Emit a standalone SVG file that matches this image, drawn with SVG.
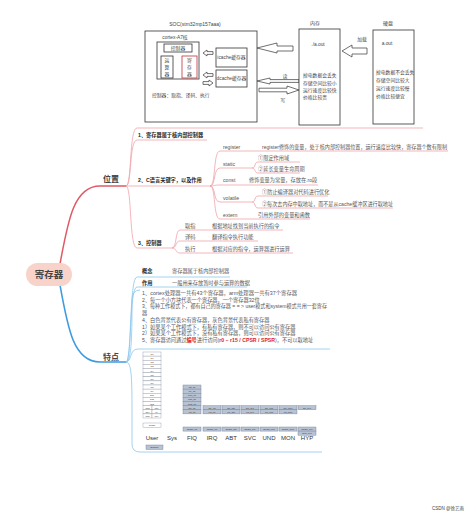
<svg xmlns="http://www.w3.org/2000/svg" width="474" height="514" viewBox="0 0 474 514">
<style>
text{font-family:"Liberation Sans","Noto Sans CJK SC",sans-serif;fill:#444}
.box{fill:#fff;stroke:#333;stroke-width:0.8}
.arr{fill:#fff;stroke:#333;stroke-width:0.7}
.t5{font-size:5px}
.t48{font-size:4.8px}
.m{text-anchor:middle}
.it{font-size:5.2px;fill:#555}
.b{font-weight:bold;fill:#222}
.rl{fill:none;stroke:#f0a3ab;stroke-width:0.8}
.bl{fill:none;stroke:#8dc6ee;stroke-width:0.8}
.pub{fill:#fff;stroke:#8a94a6;stroke-width:0.4}
.prv{fill:#b7c2d3;stroke:#6f7d94;stroke-width:0.4}
.rt{font-size:2.3px;fill:#333;text-anchor:middle}
.ml{font-size:6px;fill:#333;text-anchor:middle}
</style>
<rect width="474" height="514" fill="#fff"/>

<g id="connectors">
  <path d="M60 264 C68 220 74 186 100 186 L126 186" fill="none" stroke="#e05a66" stroke-width="1.5"/>
  <path d="M60 285 C68 330 74 362 100 362 L126 362" fill="none" stroke="#3d9be0" stroke-width="1.5"/>
  <path class="rl" d="M126 186 C132 186 129 128 137 128 H423"/>
  <path class="rl" d="M126 186 C132 186 129 140 137 140 H207"/>
  <path class="rl" d="M126 186 H210"/>
  <path class="rl" d="M126 186 C132 186 129 248 137 248 H172"/>
  <path class="rl" d="M210 186 C216 186 213 151 220 151 H448"/>
  <path class="rl" d="M210 186 C216 186 213 168 220 168 H252"/>
  <path class="rl" d="M252 168 C256 168 254 162 258 162 H300"/>
  <path class="rl" d="M252 168 C256 168 254 173 258 173 H300"/>
  <path class="rl" d="M210 186 C214 186 214 185 220 185 H318"/>
  <path class="rl" d="M210 186 C216 186 213 202 220 202 H252"/>
  <path class="rl" d="M252 202 C256 202 254 196 258 196 H328"/>
  <path class="rl" d="M252 202 C256 202 254 208 258 208 H393"/>
  <path class="rl" d="M210 186 C216 186 213 219 220 219 H310"/>
  <path class="rl" d="M172 248 C177 248 175 230 180 230 H283"/>
  <path class="rl" d="M172 248 C177 248 175 241 180 241 H258"/>
  <path class="rl" d="M172 248 C177 248 175 253 180 253 H293"/>
  <path class="bl" d="M126 362 C132 362 129 277 137 277 H230"/>
  <path class="bl" d="M126 362 C132 362 129 287 137 287 H247"/>
  <path class="bl" d="M126 362 C132 362 132 330 132 300 Q132 290 140 290"/>
  <path class="bl" d="M126 362 C132 362 129 349 138 349 H330"/>
  <path class="bl" d="M126 362 C132 362 132 380 132 420 V444 Q132 452 140 452 H322"/>
</g>

<g id="soc-picture">
  <text class="t5 m" x="195" y="25.5">SOC(stm32mp157aaa)</text>
  <rect class="box" x="145" y="31" width="112" height="91"/>
  <text class="t48 m" x="175" y="38.7">cortex-A7核</text>
  <rect class="box" x="157" y="42" width="42" height="37" stroke-width="1.1"/>
  <rect class="box" x="164" y="44" width="28" height="8"/>
  <text class="t48 m" x="178" y="49.7">控制器</text>
  <rect class="box" x="161" y="56" width="12" height="22"/>
  <text class="t48 m" x="167" y="61.5">运</text>
  <text class="t48 m" x="167" y="68.5">算</text>
  <text class="t48 m" x="167" y="75.8">器</text>
  <rect x="182" y="56" width="15" height="22" fill="#fff" stroke="#c0303a" stroke-width="0.8"/>
  <text class="t48 m" x="189.5" y="61.5">寄</text>
  <text class="t48 m" x="189.5" y="68.5">存</text>
  <text class="t48 m" x="189.5" y="75.8">器</text>
  <rect class="box" x="216" y="48" width="31" height="19"/>
  <text class="t48 m" x="231.5" y="59.2">icache缓存器</text>
  <rect class="box" x="216" y="70" width="31" height="17"/>
  <text class="t48 m" x="231.5" y="80.2">dcache缓存器</text>
  <polygon class="arr" points="203,53 207,50 207,51.6 213,51.6 213,54.4 207,54.4 207,56"/>
  <polygon class="arr" points="203,75 207,72 207,73.6 213,73.6 213,76.4 207,76.4 207,78"/>
  <polygon class="arr" points="213,83 209,80 209,81.6 203,81.6 203,84.4 209,84.4 209,86"/>
  <text class="t48" x="152" y="96.5">控制器：取指、译码、执行</text>
  <polygon class="arr" points="257,48 277,43 277,46 293,46 293,51 277,51 277,53"/>
  <polygon class="arr" points="257,81 270,78 270,79.6 299,79.6 299,82.4 270,82.4 270,84"/>
  <text class="t48 m" x="285" y="77.5">读</text>
  <polygon class="arr" points="259,88.2 287,88.2 287,86 299,90 287,94 287,91.8 259,91.8"/>
  <text class="t48 m" x="283" y="101.5">写</text>
  <text class="t5 m" x="315" y="24.7">内存</text>
  <rect class="box" x="299" y="29" width="41" height="96"/>
  <text class="t48 m" x="318" y="45.5">./a.out</text>
  <text class="t48" x="303" y="77.4">掉电数据会丢失</text>
  <text class="t48" x="303" y="84.6">存储空间比较小</text>
  <text class="t48" x="303" y="91.8">运行速度比较快</text>
  <text class="t48" x="303" y="99">价格比较贵</text>
  <polygon class="arr" points="342,51 352,45 352,48 367,48 367,54 352,54 352,57"/>
  <text class="t48 m" x="362" y="40.7">加载</text>
  <text class="t5 m" x="388" y="24.7">硬盘</text>
  <rect class="box" x="373" y="30" width="41" height="94"/>
  <text class="t48 m" x="387" y="44.7">a.out</text>
  <text class="t48" x="376" y="74.4">掉电数据不会丢失</text>
  <text class="t48" x="376" y="82.4">存储空间比较大</text>
  <text class="t48" x="376" y="90.4">运行速度比较慢</text>
  <text class="t48" x="376" y="98.4">价格比较便宜</text>
</g>

<g id="root">
  <rect x="26" y="263" width="46" height="23" rx="11.5" fill="#f8d3ca"/>
  <text x="49" y="277.6" font-size="9.5" font-weight="bold" text-anchor="middle" fill="#333">寄存器</text>
</g>
<g id="pos"><text x="111" y="182" font-size="8" font-weight="bold" text-anchor="middle" fill="#333">位置</text></g>
<g id="feat"><text x="111" y="360" font-size="8" font-weight="bold" text-anchor="middle" fill="#333">特点</text></g>

<g id="pos-1"><text class="it b" x="138" y="136.9">1、寄存器属于核内部控制器</text></g>
<g id="pos-2"><text class="it b" x="138" y="181.9">2、C语言关键字，以及作用</text></g>
<g id="kw-register">
  <text class="it" x="223" y="148.9">register</text>
  <text class="it" x="262" y="148.9" textLength="185" lengthAdjust="spacingAndGlyphs">register修饰的变量，处于核内部控制器位置，运行速度比较快，寄存器个数有限制</text>
</g>
<g id="kw-static">
  <text class="it" x="223" y="165.9">static</text>
  <text class="it" x="258" y="159.9">①限定作用域</text>
  <text class="it" x="258" y="170.9">②延长变量生命周期</text>
</g>
<g id="kw-const">
  <text class="it" x="223" y="182.4">const</text>
  <text class="it" x="249" y="182.4">修饰变量为常量，存放在.ro段</text>
</g>
<g id="kw-volatile">
  <text class="it" x="223" y="199.9">volatile</text>
  <text class="it" x="262" y="193.9">①防止编译器对代码进行优化</text>
  <text class="it" x="262" y="205.9" textLength="131" lengthAdjust="spacingAndGlyphs">②每次去内存中取地址，而不是从cache缓冲区进行取地址</text>
</g>
<g id="kw-extern">
  <text class="it" x="223" y="216.9">extern</text>
  <text class="it" x="258" y="216.9">引用外部的变量和函数</text>
</g>
<g id="pos-3"><text class="it b" x="138" y="244.9">3、控制器</text></g>
<g id="ctl-fetch">
  <text class="it" x="185" y="227.5">取指</text>
  <text class="it" x="212" y="227.5">根据地址找到当前执行的指令</text>
</g>
<g id="ctl-decode">
  <text class="it" x="185" y="238.9">译码</text>
  <text class="it" x="212" y="238.9">翻译指令执行功能</text>
</g>
<g id="ctl-exec">
  <text class="it" x="185" y="250.9">执行</text>
  <text class="it" x="212" y="250.9">根据对应的指令，运算器进行运算</text>
</g>

<g id="feat-concept">
  <text class="it b" x="142" y="273.2">概念</text>
  <text class="it" x="172" y="273.2">寄存器属于核内部控制器</text>
</g>
<g id="feat-use">
  <text class="it b" x="142" y="285">作用</text>
  <text class="it" x="172" y="285">一般用来存放暂时参与运算的数据</text>
</g>
<g id="feat-list">
  <text class="it" x="142" y="295" textLength="155" lengthAdjust="spacingAndGlyphs">1、cortex处理器一共有43个寄存器，arm处理器一共有37个寄存器</text>
  <text class="it" x="142" y="301.8">2、每一个小方块代表一个寄存器，一个寄存器32位</text>
  <text class="it" x="142" y="308.3" textLength="185" lengthAdjust="spacingAndGlyphs">3、每种工作模式下，都有自己的寄存器 = = &gt; user模式和system模式共用一套寄存</text>
  <text class="it" x="142" y="315">器</text>
  <text class="it" x="142" y="322.3">4、白色背景代表公有寄存器，灰色背景代表私有寄存器</text>
  <text class="it" x="142" y="328.8">1）如果某个工作模式下，有私有寄存器，则不可以访问公有寄存器</text>
  <text class="it" x="142" y="335.3">2）如果某个工作模式下，没有私有寄存器，则可以访问公有寄存器</text>
  <text class="it" x="142" y="342.2">5、寄存器访问通过<tspan fill="#e0202a" font-weight="bold">编号</tspan>进行访问(<tspan fill="#e0202a" font-weight="bold">r0 ~ r15 / CPSR / SPSR</tspan>)，不可以取地址</text>
</g>

<g id="feat-table">
  <g id="user-col">
    <rect class="pub" x="143" y="352" width="18" height="4.125"/><text class="rt" x="152" y="355">R0</text>
    <rect class="pub" x="143" y="356.125" width="18" height="4.125"/><text class="rt" x="152" y="359.1">R1</text>
    <rect class="pub" x="143" y="360.25" width="18" height="4.125"/><text class="rt" x="152" y="363.2">R2</text>
    <rect class="pub" x="143" y="364.375" width="18" height="4.125"/><text class="rt" x="152" y="367.4">R3</text>
    <rect class="pub" x="143" y="368.5" width="18" height="4.125"/><text class="rt" x="152" y="371.5">R4</text>
    <rect class="pub" x="143" y="372.625" width="18" height="4.125"/><text class="rt" x="152" y="375.6">R5</text>
    <rect class="pub" x="143" y="376.75" width="18" height="4.125"/><text class="rt" x="152" y="379.7">R6</text>
    <rect class="pub" x="143" y="380.875" width="18" height="4.125"/><text class="rt" x="152" y="383.9">R7</text>
    <rect class="pub" x="143" y="385" width="18" height="4.125"/><text class="rt" x="152" y="388">R8</text>
    <rect class="pub" x="143" y="389.125" width="18" height="4.125"/><text class="rt" x="152" y="392.1">R9</text>
    <rect class="pub" x="143" y="393.25" width="18" height="4.125"/><text class="rt" x="152" y="396.2">R10</text>
    <rect class="pub" x="143" y="397.375" width="18" height="4.125"/><text class="rt" x="152" y="400.4">R11</text>
    <rect class="pub" x="143" y="401.5" width="18" height="4.125"/><text class="rt" x="152" y="404.5">R12</text>
    <rect class="pub" x="143" y="405.625" width="9" height="4.125"/><text class="rt" x="147.5" y="408.6">R13</text>
    <rect class="pub" x="152" y="405.625" width="9" height="4.125"/><text class="rt" x="156.5" y="408.6">(sp)</text>
    <rect class="pub" x="143" y="409.75" width="9" height="4.125"/><text class="rt" x="147.5" y="412.7">R14</text>
    <rect class="pub" x="152" y="409.75" width="9" height="4.125"/><text class="rt" x="156.5" y="412.7">(lr)</text>
    <rect class="pub" x="143" y="413.875" width="9" height="4.125"/><text class="rt" x="147.5" y="416.9">R15</text>
    <rect class="pub" x="152" y="413.875" width="9" height="4.125"/><text class="rt" x="156.5" y="416.9">(pc)</text>
    <rect class="pub" x="143" y="423" width="18" height="4.2"/><text class="rt" x="152" y="426">CPSR</text>
  </g>
  <g id="fiq-col">
    <rect class="prv" x="183" y="385" width="18" height="4.125"/><text class="rt" x="192" y="388">R8_fiq</text>
    <rect class="prv" x="183" y="389.125" width="18" height="4.125"/><text class="rt" x="192" y="392.1">R9_fiq</text>
    <rect class="prv" x="183" y="393.25" width="18" height="4.125"/><text class="rt" x="192" y="396.2">R10_fiq</text>
    <rect class="prv" x="183" y="397.375" width="18" height="4.125"/><text class="rt" x="192" y="400.4">R11_fiq</text>
    <rect class="prv" x="183" y="401.5" width="18" height="4.125"/><text class="rt" x="192" y="404.5">R12_fiq</text>
    <rect class="prv" x="183" y="405.625" width="18" height="4.125"/><text class="rt" x="192" y="408.6">SP_fiq</text>
    <rect class="prv" x="183" y="409.75" width="18" height="4.125"/><text class="rt" x="192" y="412.7">LR_fiq</text>
  </g>
  <g id="banked-cols">
    <rect class="prv" x="203" y="405.625" width="18" height="4.125"/><text class="rt" x="212" y="408.6">SP_irq</text>
    <rect class="prv" x="203" y="409.75" width="18" height="4.125"/><text class="rt" x="212" y="412.7">LR_irq</text>
    <rect class="prv" x="222" y="405.625" width="18" height="4.125"/><text class="rt" x="231" y="408.6">SP_abt</text>
    <rect class="prv" x="222" y="409.75" width="18" height="4.125"/><text class="rt" x="231" y="412.7">LR_abt</text>
    <rect class="prv" x="241" y="405.625" width="18" height="4.125"/><text class="rt" x="250" y="408.6">SP_svc</text>
    <rect class="prv" x="241" y="409.75" width="18" height="4.125"/><text class="rt" x="250" y="412.7">LR_svc</text>
    <rect class="prv" x="260" y="405.625" width="18" height="4.125"/><text class="rt" x="269" y="408.6">SP_und</text>
    <rect class="prv" x="260" y="409.75" width="18" height="4.125"/><text class="rt" x="269" y="412.7">LR_und</text>
    <rect class="prv" x="279" y="405.625" width="18" height="4.125"/><text class="rt" x="288" y="408.6">SP_mon</text>
    <rect class="prv" x="279" y="409.75" width="18" height="4.125"/><text class="rt" x="288" y="412.7">LR_mon</text>
    <rect class="prv" x="298" y="405.625" width="18" height="4.125"/><text class="rt" x="307" y="408.6">SP_hyp</text>
  </g>
  <g id="spsr-row">
    <rect class="prv" x="183" y="427" width="18" height="4.1"/><text class="rt" x="192" y="430">SPSR_fiq</text>
    <rect class="prv" x="203" y="427" width="18" height="4.1"/><text class="rt" x="212" y="430">SPSR_irq</text>
    <rect class="prv" x="222" y="427" width="18" height="4.1"/><text class="rt" x="231" y="430">SPSR_abt</text>
    <rect class="prv" x="241" y="427" width="18" height="4.1"/><text class="rt" x="250" y="430">SPSR_svc</text>
    <rect class="prv" x="260" y="427" width="18" height="4.1"/><text class="rt" x="269" y="430">SPSR_und</text>
    <rect class="prv" x="279" y="427" width="18" height="4.1"/><text class="rt" x="288" y="430">SPSR_mon</text>
    <rect class="prv" x="298" y="427" width="18" height="4.1"/><text class="rt" x="307" y="430">SPSR_hyp</text>
    <rect class="prv" x="298" y="431.1" width="18" height="4.1"/><text class="rt" x="307" y="434.1">ELR_hyp</text>
  </g>
  <g id="mode-labels">
    <text class="ml" x="152" y="440.2">User</text>
    <text class="ml" x="172" y="440.2">Sys</text>
    <text class="ml" x="192" y="440.2">FIQ</text>
    <text class="ml" x="212" y="440.2">IRQ</text>
    <text class="ml" x="231" y="440.2">ABT</text>
    <text class="ml" x="250" y="440.2">SVC</text>
    <text class="ml" x="269" y="440.2">UND</text>
    <text class="ml" x="288" y="440.2">MON</text>
    <text class="ml" x="307" y="440.2">HYP</text>
  </g>
  <rect class="prv" x="146" y="445" width="17" height="4.5"/><text class="rt" x="154.5" y="448.2">Banked</text>
</g>

<text x="432" y="510" font-size="4.5" fill="#999">CSDN @徐艺南</text>
</svg>
